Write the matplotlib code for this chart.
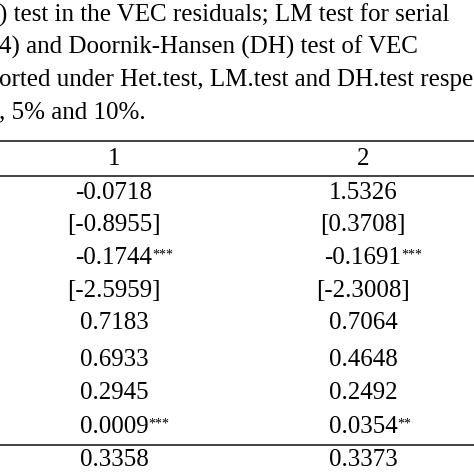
import matplotlib.pyplot as plt

plt.rcParams['font.family'] = ['Liberation Serif', 'DejaVu Serif']

caption = [") test in the VEC residuals; LM test for serial",
           "4) and Doornik-Hansen (DH) test of VEC",
           "orted under Het.test, LM.test and DH.test respe",
           ", 5% and 10%."]
header = ["1", "2"]
col1 = ["-0.0718", "[-0.8955]", "-0.1744", "[-2.5959]", "0.7183",
        "0.6933", "0.2945", "0.0009", "0.3358"]
col2 = ["1.5326", "[0.3708]", "-0.1691", "[-2.3008]", "0.7064",
        "0.4648", "0.2492", "0.0354", "0.3373"]
stars1 = ["", "", "***", "", "", "", "", "***", ""]
stars2 = ["", "", "***", "", "", "", "", "**", ""]
row_y = [193, 225, 258, 291, 323, 360, 393, 427, 460]

fig = plt.figure(figsize=(4.74, 4.74), dpi=100)
ax = fig.add_axes([0, 0, 1, 1])
ax.set_xlim(0, 474)
ax.set_ylim(474, 0)
ax.axis('off')

fs = 18
for i, line in enumerate(caption):
    ax.text(-1, 15 + i * 32.5, line, fontsize=fs, va='center', ha='left')

for y in [141, 176, 445]:
    ax.axhline(y, color='#333333', lw=1.3)

ax.text(114, 159, header[0], fontsize=fs, ha='center', va='center')
ax.text(363, 159, header[1], fontsize=fs, ha='center', va='center')
for y, a, b, sa, sb in zip(row_y, col1, col2, stars1, stars2):
    for x, v, s in [(114, a, sa), (363, b, sb)]:
        t = ax.text(x, y, v, fontsize=fs, ha='center', va='center')
        if s:
            ax.annotate(s, xy=(1, 1), xycoords=t, xytext=(0, -1),
                        textcoords='offset points', fontsize=10,
                        ha='left', va='top')

fig.savefig("out.png", dpi=100)
